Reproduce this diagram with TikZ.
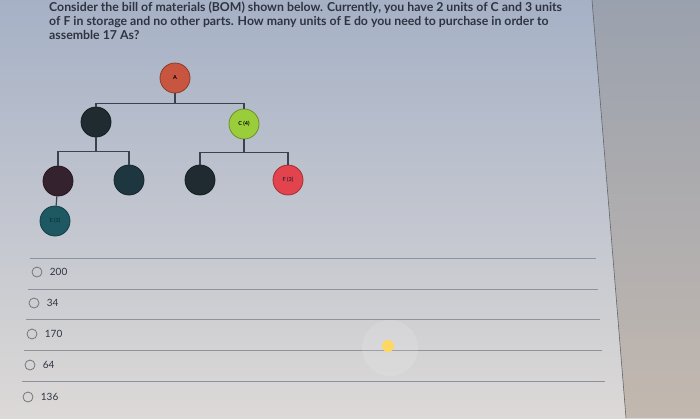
\documentclass[tikz,border=0pt]{standalone}
\usepackage{fontspec}
\setmainfont{Lato}
\usetikzlibrary{positioning}

\definecolor{bgtop}{HTML}{A6B1C6}
\definecolor{bgbot}{HTML}{DCD9D7}
\definecolor{edgetop}{HTML}{9AA1AE}
\definecolor{edgebot}{HTML}{C2B8AF}
\definecolor{qtext}{HTML}{2E3440}
\definecolor{linecol}{HTML}{3A4250}
\definecolor{rulecol}{HTML}{8E939B}
\definecolor{colA}{HTML}{C8553F}
\definecolor{colC}{HTML}{9ACD3A}
\definecolor{colF}{HTML}{E2434C}
\definecolor{colDark}{HTML}{1F2B31}
\definecolor{colPurple}{HTML}{35222F}
\definecolor{colSlate}{HTML}{1E3640}
\definecolor{colTeal}{HTML}{1D5863}

\tikzset{
  part/.style={circle, draw=#1!70!black, fill=#1, line width=0.8pt,
    minimum size=30pt, inner sep=0pt, font=\fontsize{5.5}{5.5}\selectfont\bfseries},
  tree/.style={draw=linecol, line width=1.2pt},
  choice/.style={anchor=west, font=\fontsize{10}{10}\selectfont, text=qtext},
  radio/.style={circle, draw=rulecol!80!black, line width=0.8pt, minimum size=10pt, inner sep=0pt},
  divider/.style={draw=rulecol, line width=0.6pt}
}

\begin{document}
\begin{tikzpicture}[x=1pt,y=-1pt]
        \useasboundingbox (0,0) rectangle (700,418);

        % photo background
        \shade[top color=bgtop, bottom color=bgbot] (0,0) rectangle (700,418);
        \shade[top color=edgetop, bottom color=edgebot] (592,0) -- (626,418) -- (700,418) -- (700,0) -- cycle;
        \draw[rulecol!70!black, line width=0.6pt] (592,0) -- (626,418);

        % question
        \node[anchor=north west, align=left, text=qtext, inner sep=0pt,
              font=\fontsize{12.3}{14}\selectfont\bfseries] (question) at (49,2)
          {Consider the bill of materials (BOM) shown below. Currently, you have 2 units of C and 3 units\\
           of F in storage and no other parts. How many units of E do you need to purchase in order to\\
           assemble 17 As?};

        % bill of materials
        \node[part=colA] (a) at (175,78) {A};
        \node[part=colDark] (b) at (96,122) {};
        \node[part=colC] (c) at (244,124) {C (4)};
        \node[part=colPurple] (d) at (58,181) {};
        \node[part=colSlate] (g) at (129,180) {};
        \node[part=colDark] (h) at (200,180) {};
        \node[part=colF, text=colPurple] (f) at (288,180) {F (3)};
        \node[part=colTeal, text=colTeal!60!black] (e) at (55,221) {E (3)};

        \draw[tree] (a.south) -- ++(0,10) -| (b.north);
        \draw[tree] (a.south) -- ++(0,10) -| (c.north);
        \draw[tree] (b.south) -- ++(0,14) -| (d.north);
        \draw[tree] (b.south) -- ++(0,14) -| (g.north);
        \draw[tree] (c.south) -- ++(0,13) -| (h.north);
        \draw[tree] (c.south) -- ++(0,13) -| (f.north);
        \draw[tree] (d) -- (e);

        % answer choices
        \draw[divider] (30,258) -- (596,258);
        \node[radio] (r1) at (37,272) {};
        \node[choice, right=4pt of r1] (c1) {200};
        \draw[divider] (28,289) -- (598,289);
        \node[radio] (r2) at (34,303) {};
        \node[choice, right=4pt of r2] (c2) {34};
        \draw[divider] (26,319) -- (600,319);
        \node[radio] (r3) at (32,334) {};
        \node[choice, right=4pt of r3] (c3) {170};
        \draw[divider] (24,350) -- (602,350);
        \node[radio] (r4) at (30,365) {};
        \node[choice, right=4pt of r4] (c4) {64};
        \draw[divider] (22,381) -- (605,381);
        \node[radio] (r5) at (28,397) {};
        \node[choice, right=4pt of r5] (c5) {136};

        % glare
        \fill[white, opacity=0.12] (390,348) circle (28);
        \fill[yellow!55!orange!60!white] (388,346) circle (6);
\end{tikzpicture}
\end{document}
